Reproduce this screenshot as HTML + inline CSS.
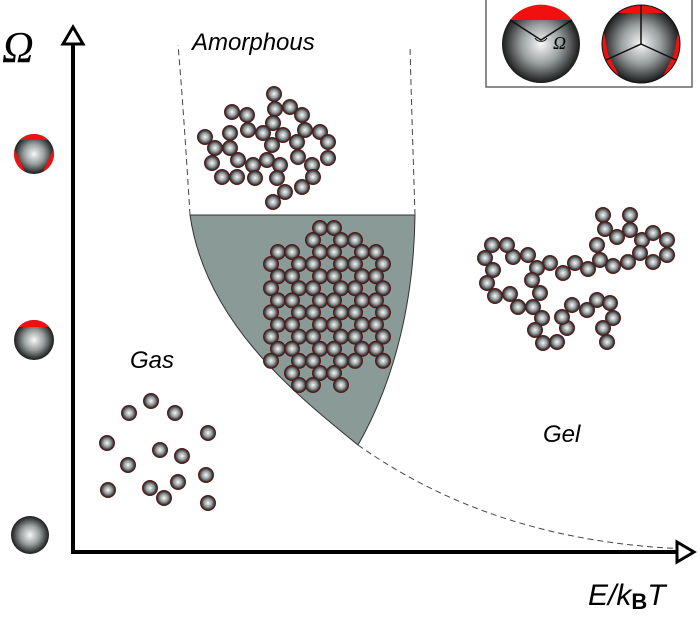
<!DOCTYPE html>
<html><head><meta charset="utf-8"><style>
html,body{margin:0;padding:0;background:#fff;}
svg{display:block}
</style></head><body>
<svg width="700" height="617" viewBox="0 0 700 617" xmlns="http://www.w3.org/2000/svg">
<defs>
<radialGradient id="g" cx="50%" cy="50%" r="50%">
<stop offset="0" stop-color="#f8f8f8"/>
<stop offset="0.5" stop-color="#9aa0a0"/>
<stop offset="1" stop-color="#1a1a1a"/>
</radialGradient>
<g id="s"><circle r="7.5" fill="url(#g)" stroke="#5a1616" stroke-width="1"/></g>
<clipPath id="c1"><circle cx="0" cy="0" r="20"/></clipPath>
</defs>

<!-- shaded region -->
<path d="M190,215 L415,215 C414,300 395,380 358,445 C290,390 205,320 190,215 Z" fill="#8a9a96" stroke="#333" stroke-width="1"/>
<path d="M190,215 C186,150 182,90 178,45" fill="none" stroke="#444" stroke-width="1" stroke-dasharray="6,4"/>
<path d="M415,215 C413,150 411,90 410,45" fill="none" stroke="#444" stroke-width="1" stroke-dasharray="6,4"/>
<path d="M358,445 C450,510 560,545 690,549" fill="none" stroke="#444" stroke-width="1" stroke-dasharray="6,4"/>

<!-- axes -->
<line x1="73" y1="42" x2="73" y2="553" stroke="#000" stroke-width="4"/>
<polygon points="73,27 63,44 83,44" fill="#fff" stroke="#000" stroke-width="3"/>
<line x1="71" y1="552" x2="678" y2="552" stroke="#000" stroke-width="4"/>
<polygon points="694,552 677,542 677,562" fill="#fff" stroke="#000" stroke-width="3"/>

<!-- labels -->
<text x="2" y="62" font-family="Liberation Serif" font-style="italic" font-size="44">Ω</text>
<text x="192" y="50" font-family="Liberation Sans" font-style="italic" font-size="24">Amorphous</text>
<text x="130" y="368" font-family="Liberation Sans" font-style="italic" font-size="24">Gas</text>
<text x="543" y="442" font-family="Liberation Sans" font-style="italic" font-size="24">Gel</text>
<text x="588" y="605" font-family="Liberation Sans" font-style="italic" font-size="30">E/k<tspan font-style="normal" font-weight="bold" font-size="22" dy="4">B</tspan><tspan dy="-4">T</tspan></text>

<!-- inset -->
<polyline points="486,0 486,87 692,87 692,0" fill="none" stroke="#666" stroke-width="1.5"/>
<g transform="translate(541,44)">
<circle r="39" fill="url(#g)"/>
<path d="M-31,-24 A39,39 0 0 1 31,-24 Z" fill="#f01010"/>
<polyline points="-31,-24 0,-4 31,-24" fill="none" stroke="#111" stroke-width="1.5"/>
<path d="M-6,-6 A7,7 0 0 0 6,-6" fill="none" stroke="#111" stroke-width="1"/>
<text x="12" y="5" font-family="Liberation Serif" font-style="italic" font-size="18">Ω</text>
</g>
<g transform="translate(641,44)">
<circle r="39" fill="url(#g)"/>
<path d="M-24,-31 A39,39 0 0 1 24,-31 Z" fill="#f01010"/>
<path d="M-37,-12 A39,39 0 0 0 -22,32 L-33,10 Z" fill="#f01010"/>
<path d="M37,-12 A39,39 0 0 1 22,32 L33,10 Z" fill="#f01010"/>
<polyline points="0,-39 0,0 -35,16" fill="none" stroke="#111" stroke-width="1.5"/>
<line x1="0" y1="0" x2="35" y2="16" stroke="#111" stroke-width="1.5"/>
<circle r="39" fill="none" stroke="#111" stroke-width="1"/>
</g>

<!-- left spheres -->
<g transform="translate(34,154)">
<circle r="20" fill="url(#g)"/>
<g clip-path="url(#c1)">
<rect x="-20" y="-20" width="40" height="6" fill="#f01010"/>
<polygon points="-20,-6 -20,20 -8,20" fill="#f01010"/>
<polygon points="20,-6 20,20 8,20" fill="#f01010"/>
</g></g>
<g transform="translate(34,340)">
<circle r="20" fill="url(#g)"/>
<g clip-path="url(#c1)">
<rect x="-20" y="-20" width="40" height="7" fill="#f01010"/>
</g></g>
<g transform="translate(30,535)"><circle r="19" fill="url(#g)"/></g>

<!-- gas -->
<g>
<use href="#s" x="151" y="401"/><use href="#s" x="129" y="413"/><use href="#s" x="175" y="413"/>
<use href="#s" x="107" y="443"/><use href="#s" x="208" y="433"/><use href="#s" x="160" y="450"/>
<use href="#s" x="182" y="456"/><use href="#s" x="128" y="465"/><use href="#s" x="206" y="475"/>
<use href="#s" x="108" y="490"/><use href="#s" x="150" y="488"/><use href="#s" x="178" y="482"/>
<use href="#s" x="164" y="498"/><use href="#s" x="208" y="503"/>
</g>

<!-- amorphous -->
<g>
<use href="#s" x="274" y="94"/><use href="#s" x="275" y="109"/><use href="#s" x="290" y="107"/>
<use href="#s" x="232" y="112"/><use href="#s" x="247" y="115"/><use href="#s" x="302" y="115"/>
<use href="#s" x="273" y="123"/><use href="#s" x="248" y="130"/><use href="#s" x="263" y="133"/>
<use href="#s" x="283" y="135"/><use href="#s" x="305" y="130"/><use href="#s" x="320" y="132"/>
<use href="#s" x="230" y="133"/><use href="#s" x="205" y="137"/><use href="#s" x="272" y="145"/>
<use href="#s" x="297" y="142"/><use href="#s" x="328" y="142"/><use href="#s" x="215" y="148"/>
<use href="#s" x="230" y="148"/><use href="#s" x="238" y="160"/><use href="#s" x="253" y="165"/>
<use href="#s" x="267" y="160"/><use href="#s" x="280" y="165"/><use href="#s" x="298" y="157"/>
<use href="#s" x="328" y="158"/><use href="#s" x="212" y="163"/><use href="#s" x="312" y="165"/>
<use href="#s" x="222" y="177"/><use href="#s" x="237" y="177"/><use href="#s" x="255" y="178"/>
<use href="#s" x="277" y="178"/><use href="#s" x="313" y="177"/><use href="#s" x="302" y="187"/>
<use href="#s" x="285" y="192"/><use href="#s" x="273" y="202"/>
</g>

<!-- gel -->
<g>
<use href="#s" x="603" y="215"/><use href="#s" x="630" y="215"/><use href="#s" x="605" y="229"/>
<use href="#s" x="617" y="237"/><use href="#s" x="630" y="230"/><use href="#s" x="642" y="240"/>
<use href="#s" x="653" y="233"/><use href="#s" x="667" y="240"/><use href="#s" x="667" y="255"/>
<use href="#s" x="653" y="262"/><use href="#s" x="640" y="253"/><use href="#s" x="628" y="262"/>
<use href="#s" x="597" y="245"/><use href="#s" x="600" y="260"/><use href="#s" x="613" y="266"/>
<use href="#s" x="588" y="269"/><use href="#s" x="575" y="263"/><use href="#s" x="563" y="273"/>
<use href="#s" x="550" y="263"/><use href="#s" x="537" y="268"/><use href="#s" x="528" y="255"/>
<use href="#s" x="513" y="257"/><use href="#s" x="507" y="245"/><use href="#s" x="492" y="245"/>
<use href="#s" x="485" y="258"/><use href="#s" x="493" y="270"/><use href="#s" x="532" y="280"/>
<use href="#s" x="487" y="283"/><use href="#s" x="495" y="296"/><use href="#s" x="510" y="294"/>
<use href="#s" x="518" y="307"/><use href="#s" x="533" y="307"/><use href="#s" x="540" y="293"/>
<use href="#s" x="542" y="318"/><use href="#s" x="535" y="330"/><use href="#s" x="543" y="343"/>
<use href="#s" x="557" y="342"/><use href="#s" x="567" y="328"/><use href="#s" x="562" y="317"/>
<use href="#s" x="572" y="305"/><use href="#s" x="587" y="310"/><use href="#s" x="597" y="300"/>
<use href="#s" x="610" y="303"/><use href="#s" x="613" y="318"/><use href="#s" x="603" y="328"/>
<use href="#s" x="607" y="342"/>
</g>

<!-- crystal (honeycomb) -->
<g>
<use href="#s" x="320" y="228"/><use href="#s" x="334" y="228"/>
<use href="#s" x="313" y="240"/><use href="#s" x="341" y="240"/><use href="#s" x="355" y="240"/>
<g id="re">
<use href="#s" x="278" y="252"/><use href="#s" x="292" y="252"/><use href="#s" x="320" y="252"/><use href="#s" x="334" y="252"/><use href="#s" x="362" y="252"/><use href="#s" x="376" y="252"/>
</g>
<g id="ro">
<use href="#s" x="271" y="264"/><use href="#s" x="299" y="264"/><use href="#s" x="313" y="264"/><use href="#s" x="341" y="264"/><use href="#s" x="355" y="264"/><use href="#s" x="383" y="264"/>
</g>
<use href="#re" y="24.2"/><use href="#ro" y="24.2"/>
<use href="#re" y="48.4"/><use href="#ro" y="48.4"/>
<use href="#re" y="72.6"/><use href="#ro" y="72.6"/>
<use href="#re" y="96.8"/><use href="#ro" y="96.8"/>
<use href="#s" x="292" y="373"/><use href="#s" x="320" y="373"/><use href="#s" x="334" y="373"/>
<use href="#s" x="299" y="385"/><use href="#s" x="313" y="385"/><use href="#s" x="341" y="385"/>
</g>
</svg>
</body></html>
